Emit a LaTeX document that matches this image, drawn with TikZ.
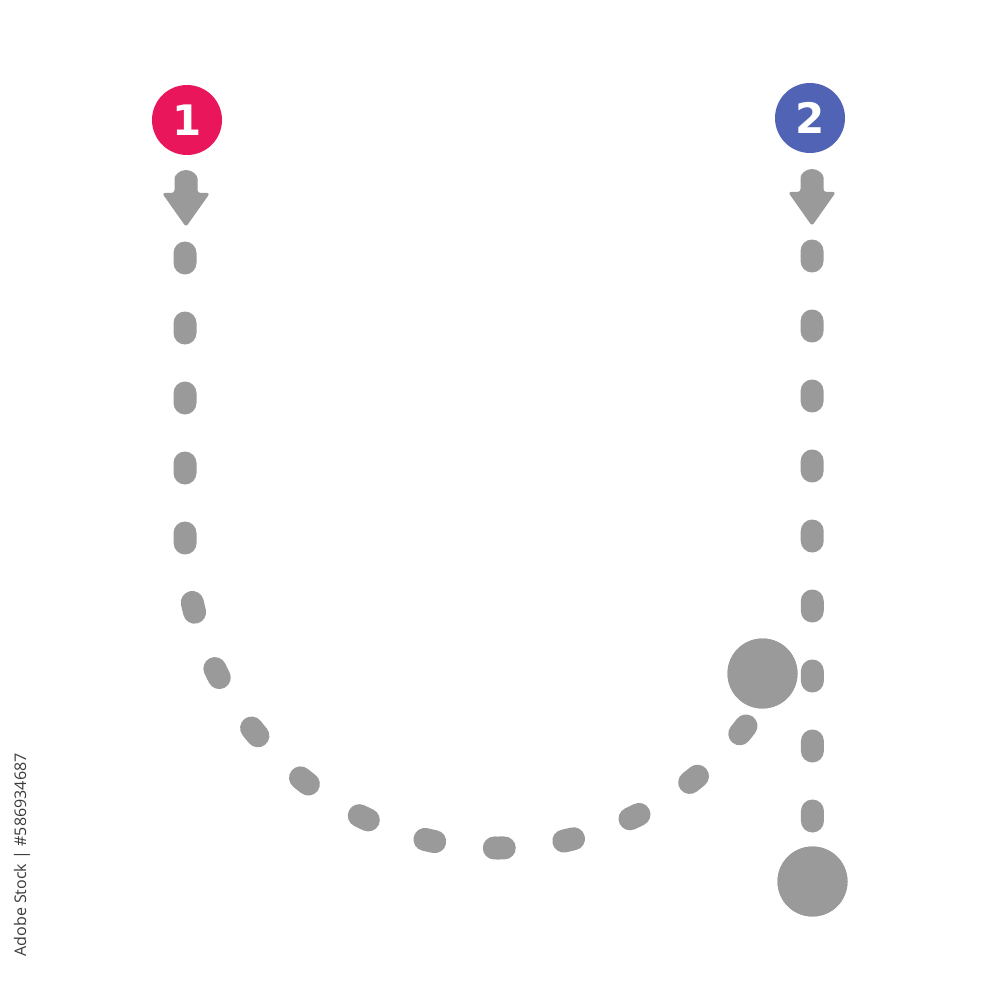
\documentclass[tikz,border=0pt]{standalone}
\usepackage{fontspec}
\setmainfont{Open Sans}
\newfontfamily\numfont{DejaVu Sans}
\usepackage{graphicx}
\definecolor{dotgray}{RGB}{154,154,154}
\definecolor{numred}{RGB}{234,22,92}
\definecolor{numblue}{RGB}{80,99,180}
\definecolor{marktext}{RGB}{60,60,60}
\tikzset{
  numcirc/.style={circle, minimum size=70pt, inner sep=0pt, text=white, font=\numfont\bfseries\fontsize{42}{42}\selectfont},
  enddot/.style={circle, fill=dotgray, minimum size=70pt, inner sep=0pt},
  dashline/.style={draw=dotgray, line width=23pt, line cap=round, dash pattern=on 10pt off 60pt},
  blockarrow/.pic={
    \fill[dotgray, rounded corners=3pt] (-11.5,23) -- (-11.5,11.5) arc[start angle=180, end angle=360, radius=11.5] -- (11.5,23) -- (24,23) -- (0,57) -- (-24,23) -- cycle;
  }
}
\begin{document}
\begin{tikzpicture}[x=1pt,y=-1pt]
\useasboundingbox[fill=white] (0,0) rectangle (1000,1000);
% numbered circles
\node[numcirc, fill=numred] (n1) at (187,120) {1};
\node[numcirc, fill=numblue] (n2) at (810,118) {2};
% block arrows
\pic (a1) at (186,170) {blockarrow};
\pic (a2) at (812,169) {blockarrow};
% path coordinates
\coordinate (s1) at (185,253);
\coordinate (c1) at (185,535);
\coordinate (s2) at (812,251);
% end dots
\node[enddot] (e1) at (762.5,673.5) {};
\node[enddot] (e2) at (812.5,881.5) {};
% dashed paths
\draw[dashline] (s1) -- (c1) arc[start angle=180, end angle=30, radius=313];
\draw[dashline] (s2) -- (e2);
\node[enddot] at (e1) {};
\node[enddot] at (e2) {};
% vertical mark text
\node[rotate=90, text=marktext, inner sep=0pt] (mark) at (22,855) {\resizebox{203pt}{!}{Adobe Stock | \#586934687}};
\end{tikzpicture}
\end{document}
